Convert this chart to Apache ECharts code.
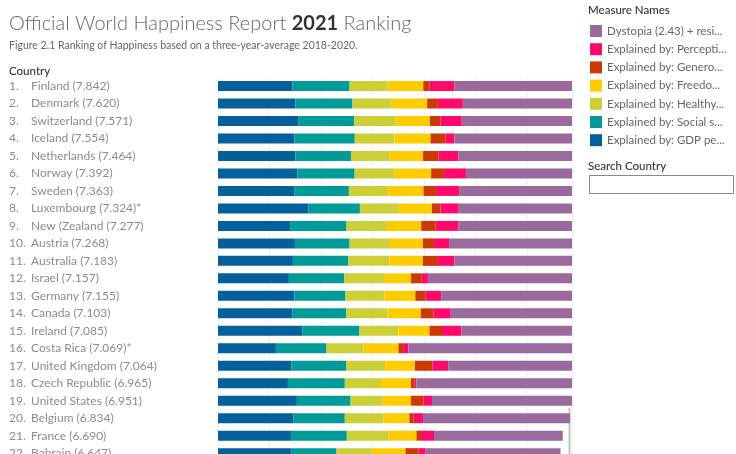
<!DOCTYPE html>
<html>
<head>
<meta charset="utf-8">
<script src="https://cdn.jsdelivr.net/npm/echarts@6/dist/echarts.min.js"></script>
<style>
  html, body { margin: 0; padding: 0; background: #fff; overflow: hidden; }
  #chart { width: 736px; height: 470px; }
</style>
</head>
<body>
<div id="chart"></div>
<script>
const countries = ["Finland", "Denmark", "Switzerland", "Iceland", "Netherlands", "Norway", "Sweden",
  "Luxembourg", "New (Zealand", "Austria", "Australia", "Israel", "Germany", "Canada", "Ireland",
  "Costa Rica", "United Kingdom", "Czech Republic", "United States", "Belgium", "France", "Bahrain"]
const scores = ["7.842", "7.620", "7.571", "7.554", "7.464", "7.392", "7.363", "7.324", "7.277", "7.268",
  "7.183", "7.157", "7.155", "7.103", "7.085", "7.069", "7.064", "6.965", "6.951", "6.834", "6.690", "6.647"]
const footnotes = ["", "", "", "", "", "", "", "*", "", "", "", "", "", "", "", "*", "", "", "", "", "", ""]

const gdp = [1.446, 1.502, 1.566, 1.482, 1.501, 1.543, 1.478, 1.751, 1.400, 1.492, 1.453, 1.376, 1.480, 1.447, 1.634, 1.124, 1.423, 1.357, 1.531, 1.460, 1.415, 1.415]
const social = [1.106, 1.108, 1.079, 1.172, 1.079, 1.108, 1.062, 1.003, 1.094, 1.062, 1.076, 1.074, 0.993, 1.044, 1.112, 0.982, 1.062, 1.104, 1.041, 1.001, 1.085, 0.885]
const health = [0.741, 0.763, 0.816, 0.772, 0.753, 0.782, 0.763, 0.760, 0.785, 0.782, 0.801, 0.788, 0.757, 0.798, 0.756, 0.717, 0.757, 0.704, 0.626, 0.750, 0.814, 0.684]
const freedom = [0.691, 0.686, 0.653, 0.698, 0.647, 0.703, 0.685, 0.639, 0.665, 0.640, 0.647, 0.509, 0.600, 0.648, 0.601, 0.679, 0.580, 0.581, 0.548, 0.504, 0.537, 0.654]
const generosity = [0.124, 0.208, 0.204, 0.293, 0.302, 0.249, 0.244, 0.166, 0.276, 0.215, 0.291, 0.208, 0.195, 0.246, 0.244, 0.090, 0.340, 0.066, 0.246, 0.083, 0.089, 0.252]
const corruption = [0.481, 0.485, 0.413, 0.170, 0.384, 0.427, 0.448, 0.353, 0.445, 0.292, 0.317, 0.119, 0.306, 0.335, 0.376, 0.103, 0.306, 0.039, 0.161, 0.181, 0.252, 0.141]
const dystopia = [3.253, 2.868, 2.839, 2.967, 2.798, 2.580, 2.683, 2.653, 2.612, 2.784, 2.598, 3.083, 2.824, 2.585, 2.362, 3.374, 2.596, 3.114, 2.798, 2.855, 2.498, 2.616]

const measures = [
  { name: "Explained by: GDP per capita", data: gdp, color: "#03609a" },
  { name: "Explained by: Social support", data: social, color: "#009a98" },
  { name: "Explained by: Healthy life expectancy", data: health, color: "#cccf36" },
  { name: "Explained by: Freedom to make life choices", data: freedom, color: "#ffcc00" },
  { name: "Explained by: Generosity", data: generosity, color: "#cc3905" },
  { name: "Explained by: Perceptions of corruption", data: corruption, color: "#ff0a6a" },
  { name: "Dystopia (2.43) + residual", data: dystopia, color: "#9b6a9d" },
]

const labels = countries.map((c, i) => `${i + 1}.|${c} (${scores[i]})${footnotes[i]}`)

const font = "Lato, 'Open Sans', sans-serif"
const chart = echarts.init(document.getElementById("chart"), null, { renderer: "canvas" })

chart.setOption({
  animation: false,
  textStyle: { fontFamily: font },
  title: [
    {
      left: 4,
      top: 9,
      text: "{l|Official World Happiness Report }{b|2021}{l| Ranking}",
      textStyle: {
        rich: {
          l: { fontSize: 20, fontWeight: 300, color: "#666", fontFamily: font },
          b: { fontSize: 20, fontWeight: "bold", color: "#333", fontFamily: font },
        },
      },
      subtext: "Figure 2.1 Ranking of Happiness based on a three-year-average 2018-2020.",
      subtextStyle: { fontSize: 10.5, color: "#666", fontFamily: font },
      itemGap: 6,
    },
    { left: 4, top: 60, text: "Country", textStyle: { fontSize: 11.5, fontWeight: 500, color: "#333" } },
    { left: 583, top: -1, text: "Measure Names", textStyle: { fontSize: 11.5, fontWeight: 500, color: "#333" } },
    { left: 583, top: 155, text: "Search Country", textStyle: { fontSize: 11.5, fontWeight: 500, color: "#333" } },
  ],
  legend: {
    orient: "vertical",
    left: 590,
    top: 25,
    padding: 0,
    itemWidth: 12,
    itemHeight: 12,
    itemGap: 6.2,
    itemTextGap: 6,
    icon: "rect",
    selectedMode: false,
    data: measures.map((m) => m.name).reverse(),
    textStyle: { fontSize: 11.5, color: "#666", width: 121, overflow: "truncate", ellipsis: "..." },
  },
  grid: { left: 218, top: 77.3, width: 354, height: 384.6 },
  xAxis: {
    type: "value",
    min: 0,
    max: 6.87,
    interval: 1,
    axisLabel: { show: false },
    axisLine: { show: false },
    axisTick: { show: false },
    splitLine: { lineStyle: { color: "#f0f0f0", width: 1 } },
  },
  yAxis: {
    type: "category",
    inverse: true,
    data: labels,
    axisLine: { show: false },
    axisTick: { show: false },
    axisLabel: {
      align: "left",
      margin: 209,
      formatter: (v) => {
        const [n, c] = v.split("|")
        return `{n|${n}}{c|${c}}`
      },
      rich: {
        n: { width: 22, fontSize: 12, color: "#8c8c8c", fontFamily: font },
        c: { fontSize: 12, color: "#8c8c8c", fontFamily: font },
      },
    },
  },
  series: measures.map((m) => ({
    name: m.name,
    type: "bar",
    stack: "total",
    barWidth: 10,
    clip: true,
    data: m.data,
    itemStyle: { color: m.color },
  })),
  graphic: [
    { type: "rect", shape: { x: 589.5, y: 175.5, width: 144, height: 18 }, style: { fill: "#fff", stroke: "#888", lineWidth: 1 } },
    { type: "line", shape: { x1: 569.5, y1: 408, x2: 569.5, y2: 470 }, style: { stroke: "#c4c4c4", lineWidth: 2 } },
  ],
})
</script>
</body>
</html>
